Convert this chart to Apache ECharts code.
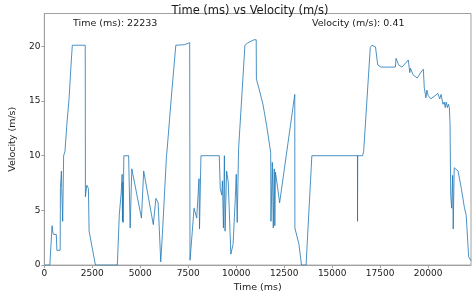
<!DOCTYPE html>
<html>
<head>
<meta charset="utf-8">
<script src="https://cdn.jsdelivr.net/npm/echarts@6/dist/echarts.min.js"></script>
<style>
  html, body { margin: 0; padding: 0; background: #fff; }
  #chart { width: 474px; height: 298px; }
</style>
</head>
<body>
<div id="chart"></div>
<script>
// time stamps (ms) and velocity (m/s)
const timeMs = [
  0, 286, 402, 440, 487, 623, 653, 824, 839, 870, 889, 905, 955, 1005, 1075, 1180, 1291, 1380, 1457,
  2131, 2140, 2211, 2296, 2332, 2663, 3804, 3905, 4000, 4055, 4071, 4088, 4106, 4141, 4392,
  4472, 4558, 5060, 5176, 5678, 5814, 5930, 6065, 6151, 6365, 6400, 6600, 6850, 7300, 7573,
  7590, 7640, 7800, 7940, 8060, 8085, 8161, 9116, 9166, 9246, 9281, 9332, 9382, 9417, 9497,
  9583, 9718, 9834, 9950, 10000, 10050, 10121, 10452, 10588, 10925, 11040, 11050, 11176,
  11392, 11593, 11794, 11809, 11879, 11930, 11980, 12010, 12045, 12261, 13050, 13055, 13266,
  13402, 13638, 13940, 16317, 16320, 16330, 16583, 16640, 16985, 17070, 17256, 17372, 17538,
  18291, 18327, 18462, 18628, 18794, 18965, 19045, 19080, 19216, 19432, 19633, 19749, 19799,
  19884, 19935, 20000, 20136, 20302, 20503, 20603, 20673, 20774, 20839, 20889, 20940, 21005,
  21055, 21106, 21141, 21176, 21226, 21276, 21307, 21357, 21558, 21729, 21894, 21980, 22111, 22233
];
const velocity = [
  0, 0, 3.6, 3.0, 2.8, 2.8, 1.35, 1.35, 7.1, 7.2, 8.6, 7.0, 4.0, 10.0, 10.4, 13.0, 15.3, 18.0, 20.1,
  20.1, 6.25, 7.3, 7.0, 3.1, 0, 0, 4.6, 6.5, 8.3, 4.0, 7.6, 3.9, 10.0, 10.0,
  3.4, 8.8, 4.3, 8.6, 3.7, 6.1, 5.7, 0.3, 2.8, 10.0, 10.6, 15.0, 20.1, 20.15, 20.33,
  0.45, 1.5, 5.2, 4.3, 7.9, 3.3, 10.0, 10.0, 7.0, 6.4, 7.7, 3.4, 10.0, 3.1, 8.6,
  7.6, 1.0, 1.9, 6.1, 8.3, 3.9, 10.6, 20.1, 20.3, 20.6, 20.6, 17.0, 16.2,
  14.7, 12.65, 10.3, 4.0, 9.4, 3.4, 8.8, 3.6, 8.5, 5.7, 15.6, 3.4, 1.9,
  0, 0, 10.0, 10.0, 4.0, 10.0, 10.0, 10.4, 19.9, 20.1, 19.95, 18.3, 18.1,
  18.1, 18.9, 18.3, 18.1, 18.4, 18.75, 17.6, 18.0, 17.4, 17.1, 17.65, 17.9, 16.2,
  15.3, 16.0, 15.5, 15.2, 15.4, 15.7, 15.2, 15.6, 14.7, 14.9, 14.4, 14.9, 14.4,
  14.7, 14.4, 12.9, 6.4, 5.2, 8.2, 3.3, 8.9, 8.6, 7.0, 5.2, 4.6, 0.75, 0.41
];
const titleText = 'Time (ms) vs Velocity (m/s)';
const timeNote = 'Time (ms): 22233';
const velocityNote = 'Velocity (m/s): 0.41';

const font = 'DejaVu Sans';
const ink = '#1a1a1a';
const frame = '#a0a0a0';

const chart = echarts.init(document.getElementById('chart'), null, { renderer: 'canvas' });

chart.setOption({
  animation: false,
  backgroundColor: '#fff',
  title: {
    text: titleText,
    left: 245,
    top: 0,
    textAlign: 'center',
    textStyle: { fontFamily: font, fontSize: 11.5, fontWeight: 'normal', color: ink }
  },
  graphic: [
    {
      type: 'text', left: 73, top: 19,
      style: { text: timeNote, fontFamily: font, fontSize: 9.5, fill: ink }
    },
    {
      type: 'text', left: 312, top: 19,
      style: { text: velocityNote, fontFamily: font, fontSize: 9.5, fill: ink }
    }
  ],
  grid: {
    left: 29.3, right: 3, top: 13.5, bottom: 26.3,
    show: true, borderColor: frame, borderWidth: 1, backgroundColor: 'transparent'
  },
  xAxis: {
    type: 'value',
    min: 0,
    max: 22233,
    interval: 2500,
    name: 'Time (ms)',
    nameLocation: 'middle',
    nameGap: 16,
    nameTextStyle: { fontFamily: font, fontSize: 9.5, color: ink },
    axisLine: { show: true, lineStyle: { color: frame } },
    axisTick: { show: true, length: 3, lineStyle: { color: frame } },
    axisLabel: {
      fontFamily: font, fontSize: 9, color: ink, margin: 4, showMaxLabel: false,
      formatter: (v) => String(v)
    },
    splitLine: { show: false }
  },
  yAxis: {
    type: 'value',
    min: 0,
    max: 23,
    interval: 5,
    name: 'Velocity (m/s)',
    nameLocation: 'middle',
    nameGap: 24,
    nameTextStyle: { fontFamily: font, fontSize: 9.5, color: ink },
    axisLine: { show: true, lineStyle: { color: frame } },
    axisTick: { show: true, length: 3, lineStyle: { color: frame } },
    axisLabel: { fontFamily: font, fontSize: 9, color: ink, margin: 4, showMaxLabel: false },
    splitLine: { show: false }
  },
  series: [
    {
      type: 'line',
      data: timeMs.map((t, i) => [t, velocity[i]]),
      showSymbol: false,
      symbol: 'none',
      lineStyle: { color: '#1f77b4', width: 1, opacity: 0.8 },
      silent: true
    }
  ]
});
</script>
</body>
</html>
